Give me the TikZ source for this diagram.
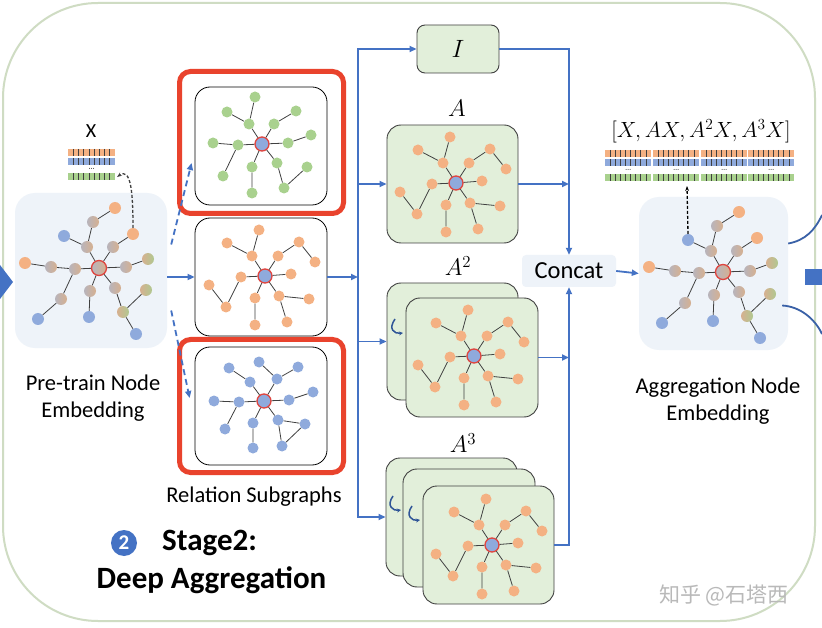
\RequirePackage{fix-cm}
\documentclass[tikz,border=0pt]{standalone}
\usepackage{fontspec}
\setmainfont{Carlito}
\newfontfamily\cjkfont{Noto Sans CJK SC}
\usetikzlibrary{arrows.meta,positioning,calc}
\definecolor{nodeorange}{HTML}{F4B183}
\definecolor{nodegreen}{HTML}{A9D18E}
\definecolor{nodeblue}{HTML}{8FAADC}
\definecolor{mixleft}{HTML}{B8B4BC}
\definecolor{mixright}{HTML}{D6B090}
\definecolor{mixgreen}{HTML}{B0C890}
\definecolor{ringred}{HTML}{E0453F}
\definecolor{panelgreen}{HTML}{E2EFDA}
\definecolor{panelblue}{HTML}{EEF3F9}
\definecolor{flowblue}{HTML}{4472C4}
\definecolor{framegreen}{HTML}{CFDCC3}
\definecolor{boxred}{HTML}{E9432D}
\definecolor{edgegray}{HTML}{404040}
\definecolor{hookblue}{HTML}{2F5597}

\tikzset{
  gnode/.style={circle, inner sep=0pt, minimum size=11pt},
  onode/.style={gnode, fill=nodeorange},
  bnode/.style={gnode, fill=nodeblue},
  grnode/.style={gnode, fill=nodegreen},
  cnode/.style={gnode, minimum size=14pt, fill=nodeblue, draw=ringred, line width=1.3pt},
  mnode/.style={gnode, minimum size=12pt, left color=mixleft, right color=mixright},
  mgnode/.style={gnode, minimum size=12pt, left color=mixright, right color=mixgreen},
  mcnode/.style={mnode, minimum size=15pt, draw=ringred, line width=1.3pt},
  gedge/.style={edgegray, line width=0.8pt},
  softpanel/.style={fill=panelblue, rounded corners=20pt, inner sep=0pt},
  subbox/.style={draw=black, fill=white, line width=0.8pt, rounded corners=15pt, minimum width=132pt, minimum height=118pt, inner sep=0pt},
  redframe/.style={draw=boxred, line width=5pt, rounded corners=11pt, minimum width=164pt, inner sep=0pt},
  gbox/.style={fill=panelgreen, draw=edgegray, line width=0.9pt, rounded corners=14pt, minimum width=131pt, minimum height=118pt, inner sep=0pt},
  flow/.style={flowblue, line width=1.8pt, -{Triangle[length=7pt, width=6pt]}},
  flowdash/.style={flow, dash pattern=on 6pt off 4pt},
  hook/.style={hookblue, line width=1.5pt, -{Stealth[length=4pt, width=4pt]}},
  tick/.style={edgegray, line width=0.6pt},
  lbl/.style={font=\fontsize{22.5}{27}\selectfont, align=center},
  mathlbl/.style={font=\fontsize{24}{28}\selectfont},
}

% orange star graph (relation subgraph and its powers)
\newcommand{\orangegraph}[3]{%
  \begin{scope}[shift={(#2,#3)}]
    \node[cnode] (#1-c) at (0,0) {};
    \node[onode] (#1-top) at (-6,-46) {};
    \node[onode] (#1-tl) at (-38,-33) {};
    \node[onode] (#1-i1) at (-13,-20) {};
    \node[onode] (#1-i2) at (13,-20) {};
    \node[onode] (#1-tr) at (34,-34) {};
    \node[onode] (#1-r2) at (50,-14) {};
    \node[onode] (#1-r) at (26,-2) {};
    \node[onode] (#1-i4) at (-24,1) {};
    \node[onode] (#1-l) at (-56,9) {};
    \node[onode] (#1-bl) at (-39,31) {};
    \node[onode] (#1-i5) at (-10,22) {};
    \node[onode] (#1-i6) at (14,20) {};
    \node[onode] (#1-br) at (44,23) {};
    \node[onode] (#1-b) at (-10,49) {};
    \node[onode] (#1-b2) at (22,46) {};
    \draw[gedge] (#1-c) -- (#1-i1) (#1-c) -- (#1-i2) (#1-c) -- (#1-r)
      (#1-c) -- (#1-i4) (#1-c) -- (#1-i5) (#1-c) -- (#1-i6)
      (#1-i1) -- (#1-top) (#1-i1) -- (#1-tl) (#1-i2) -- (#1-tr)
      (#1-tr) -- (#1-r2) (#1-i4) -- (#1-bl) (#1-bl) -- (#1-l)
      (#1-i5) -- (#1-b) (#1-i6) -- (#1-br) (#1-i6) -- (#1-b2);
  \end{scope}}

% mixed embedding graph (pre-train / aggregation)
\newcommand{\mixgraph}[3]{%
  \begin{scope}[shift={(#2,#3)}]
    \node[mcnode] (#1-c) at (0,0) {};
    \node[onode, minimum size=12pt] (#1-top2) at (16,-60) {};
    \node[mnode] (#1-top) at (-6,-46) {};
    \node[bnode, minimum size=12pt] (#1-tl) at (-35,-32) {};
    \node[mnode] (#1-i1) at (-12,-21) {};
    \node[mnode] (#1-i2) at (14,-21) {};
    \node[onode, minimum size=12pt] (#1-tr) at (34,-34) {};
    \node[mgnode] (#1-r2) at (49,-9) {};
    \node[mnode] (#1-r) at (27,-1) {};
    \node[onode, minimum size=12pt] (#1-l2) at (-74,-5) {};
    \node[mnode] (#1-l) at (-48,-1) {};
    \node[mnode] (#1-i4) at (-24,1) {};
    \node[mnode] (#1-i5) at (-9,23) {};
    \node[mnode] (#1-i6) at (16,20) {};
    \node[mgnode] (#1-br) at (47,22) {};
    \node[mnode] (#1-bl) at (-38,31) {};
    \node[bnode, minimum size=12pt] (#1-bl2) at (-61,51) {};
    \node[bnode, minimum size=12pt] (#1-b) at (-10,49) {};
    \node[mgnode] (#1-b2) at (24,44) {};
    \node[bnode, minimum size=12pt] (#1-b3) at (37,66) {};
    \draw[gedge] (#1-c) -- (#1-i1) (#1-c) -- (#1-i2) (#1-c) -- (#1-r)
      (#1-c) -- (#1-i4) (#1-c) -- (#1-i5) (#1-c) -- (#1-i6)
      (#1-i1) -- (#1-top) (#1-top) -- (#1-top2) (#1-i1) -- (#1-tl)
      (#1-i2) -- (#1-tr) (#1-r) -- (#1-r2) (#1-i4) -- (#1-l) (#1-l) -- (#1-l2)
      (#1-i4) -- (#1-bl) (#1-bl) -- (#1-bl2) (#1-i5) -- (#1-b)
      (#1-i6) -- (#1-b2) (#1-b2) -- (#1-b3) (#1-b2) -- (#1-br);
  \end{scope}}

% one block of feature rows
\newcommand{\featbar}[3]{%
  \fill[nodeorange] (#1,#2) rectangle ++(#3,7);
  \fill[nodeblue] (#1,#2+9) rectangle ++(#3,7);
  \fill[nodegreen] (#1,#2+24) rectangle ++(#3,7);
  \foreach \k in {1,...,8}{
    \draw[tick] (#1+\k*#3/9,#2) -- ++(0,7);
    \draw[tick] (#1+\k*#3/9,#2+9) -- ++(0,7);
    \draw[tick] (#1+\k*#3/9,#2+24) -- ++(0,7);
  }
  \foreach \k in {-2,0,2}{
    \fill[edgegray] (#1+#3/2+\k,#2+19.5) circle (0.5);
  }}

\begin{document}
\begin{tikzpicture}[x=1pt, y=-1pt]
\useasboundingbox (0,0) rectangle (822,628);
\fill[white] (0,0) rectangle (822,628);
\draw[framegreen, line width=2pt, rounded corners=95pt] (3,3) rectangle (815,621);

% left: pre-train embedding
\node[softpanel, minimum width=152pt, minimum height=155pt] (pre) at (91,270.5) {};
\mixgraph{pg}{99}{268}
\featbar{68}{149}{47}
\coordinate (xbar) at (117,177);
\node[font=\fontsize{20}{22}\selectfont] (xlab) at (91,131) {X};
\draw[edgegray, line width=1.3pt, dash pattern=on 3pt off 2pt, -{Stealth[length=5pt]}] (pg-tr.north) .. controls +(0,-35) and +(14,-10) .. (xbar);
\node[lbl] (prelab) at (93,398) {Pre-train Node\\Embedding};

% relation subgraphs
\node[redframe, minimum height=142pt] (red1) at (261.5,142.5) {};
\node[redframe, minimum height=133pt] (red3) at (261.5,406) {};
\node[subbox] (sub1) at (261,146) {};
\node[subbox] (sub2) at (261,277) {};
\node[subbox] (sub3) at (261,406) {};
\node[lbl] (sublab) at (254,497) {Relation Subgraphs};

% green subgraph
\begin{scope}[shift={(262,144)}]
  \node[cnode] (g1-c) at (0,0) {};
  \node[grnode] (g1-top) at (-7,-47) {};
  \node[grnode] (g1-tl) at (-35,-32) {};
  \node[grnode] (g1-i1) at (-13,-20) {};
  \node[grnode] (g1-i2) at (12,-20) {};
  \node[grnode] (g1-tr) at (34,-33) {};
  \node[grnode] (g1-r2) at (49,-9) {};
  \node[grnode] (g1-r) at (26,-1) {};
  \node[grnode] (g1-l) at (-49,-1) {};
  \node[grnode] (g1-i4) at (-24,1) {};
  \node[grnode] (g1-bl) at (-39,32) {};
  \node[grnode] (g1-i5) at (-10,23) {};
  \node[grnode] (g1-i6) at (15,19) {};
  \node[grnode] (g1-br) at (45,23) {};
  \node[grnode] (g1-b) at (-10,49) {};
  \node[grnode] (g1-b2) at (22,44) {};
  \draw[gedge] (g1-c) -- (g1-i1) (g1-c) -- (g1-i2) (g1-c) -- (g1-r)
    (g1-c) -- (g1-i4) (g1-c) -- (g1-i5) (g1-c) -- (g1-i6)
    (g1-i1) -- (g1-top) (g1-i1) -- (g1-tl) (g1-i2) -- (g1-tr)
    (g1-r) -- (g1-r2) (g1-i4) -- (g1-l) (g1-i4) -- (g1-bl)
    (g1-i5) -- (g1-b) (g1-i6) -- (g1-b2) (g1-b2) -- (g1-br);
\end{scope}

% orange subgraph
\orangegraph{g2}{265}{276}

% blue subgraph
\begin{scope}[shift={(264,401)}]
  \node[cnode] (g3-c) at (0,0) {};
  \node[bnode] (g3-top) at (-5,-39) {};
  \node[bnode] (g3-tl) at (-35,-33) {};
  \node[bnode] (g3-i1) at (-14,-19) {};
  \node[bnode] (g3-i2) at (13,-22) {};
  \node[bnode] (g3-tr) at (34,-34) {};
  \node[bnode] (g3-r2) at (49,-9) {};
  \node[bnode] (g3-r) at (25,-1) {};
  \node[bnode] (g3-l) at (-50,0) {};
  \node[bnode] (g3-i4) at (-25,1) {};
  \node[bnode] (g3-bl) at (-39,28) {};
  \node[bnode] (g3-i5) at (-11,22) {};
  \node[bnode] (g3-i6) at (14,19) {};
  \node[bnode] (g3-br) at (41,23) {};
  \node[bnode] (g3-b) at (-11,47) {};
  \node[bnode] (g3-b2) at (18,45) {};
  \draw[gedge] (g3-c) -- (g3-i1) (g3-c) -- (g3-i2) (g3-c) -- (g3-r)
    (g3-c) -- (g3-i4) (g3-c) -- (g3-i5) (g3-c) -- (g3-i6)
    (g3-i1) -- (g3-tl) (g3-top) -- (g3-i2) (g3-i2) -- (g3-tr)
    (g3-r) -- (g3-r2) (g3-i4) -- (g3-l) (g3-i4) -- (g3-bl)
    (g3-i5) -- (g3-b) (g3-i6) -- (g3-br) (g3-i6) -- (g3-b2) (g3-b2) -- (g3-br);
\end{scope}

% powers of A
\node[gbox, minimum width=82pt, minimum height=48pt, rounded corners=8pt] (ibox) at (458,49) {\fontsize{25}{28}\selectfont$I$};
\node[gbox] (abox) at (452.5,184) {};
\node[mathlbl] (alab) at (457,108) {$A$};
\orangegraph{ga1}{456}{183}

\node[gbox, minimum height=117pt] (a2back) at (452.5,341.5) {};
\node[gbox, minimum width=132pt, minimum height=119pt] (a2front) at (472,357.5) {};
\node[mathlbl] (a2lab) at (458,266) {$A^2$};
\orangegraph{ga2}{474}{356}
\draw[hook] (395,319) .. controls (388,329) and (394,334) .. (403,333);

\node[gbox] (a3back1) at (451.5,517) {};
\node[gbox, minimum width=132pt] (a3back2) at (469,528) {};
\node[gbox] (a3front) at (488.5,545) {};
\node[mathlbl] (a3lab) at (463,443) {$A^3$};
\orangegraph{ga3}{492}{545}
\draw[hook] (393,496) .. controls (386,506) and (393,511) .. (401,510);
\draw[hook] (412,506) .. controls (405,516) and (412,521) .. (420,520);

% concat and aggregation
\node[fill=panelblue, rounded corners=4pt, minimum width=94pt, minimum height=32pt, inner sep=0pt, font=\fontsize{24.5}{28}\selectfont] (concat) at (569,271) {Concat};
\node[softpanel, minimum width=149pt, minimum height=153pt] (agg) at (713.5,273.5) {};
\mixgraph{ag}{723}{272}
\node[font=\fontsize{22}{26}\selectfont] (catlab) at (701,131) {$[X, AX, A^2X, A^3X]$};
\featbar{605}{150}{46}
\featbar{653}{150}{46}
\featbar{701}{150}{46}
\featbar{748}{150}{46}
\coordinate (aggbar) at (687,186);
\draw[black, line width=1.3pt, dash pattern=on 3pt off 2pt, -{Stealth[length=5pt]}] (ag-tl.north) -- (aggbar);
\node[lbl] (agglab) at (718,401) {Aggregation Node\\Embedding};

% arrows
\coordinate (split) at (358,277);
\draw[flow] (pre.east |- sub2) -- (sub2.west);
\draw[flowdash] ($(pre.east)+(4,-26)$) -- ($(sub1.west)+(-3,17)$);
\draw[flowdash] ($(pre.east)+(4,40)$) -- ($(sub3.west)+(-5,-8)$);
\draw[flow] (sub2.east) -- (split);
\draw[flow] (split) |- (ibox.west);
\draw[flow] (split) |- (abox.west);
\draw[flow] (split) |- (a2back.west);
\draw[flow] (split) |- (a3back1.west);
\draw[flow] (ibox.east) -| (concat.north);
\draw[flow] (abox.east) -- (abox.east -| concat.north);
\draw[flow] (a2front.east) -- (a2front.east -| concat.south);
\draw[flow] (a3front.east) -| (concat.south);
\draw[flow] (concat.east) -- (agg.west);

% edges of neighbouring stages
\fill[flowblue] (0,265) -- (13,282) -- (0,299) -- cycle;
\fill[flowblue] (805,269) rectangle (822,285);
\coordinate (outa) at (822,215);
\coordinate (outb) at (822,334);
\draw[flowblue!85!black, line width=1.8pt] ($(agg.east)+(0,-30)$) .. controls +(17,-3) and +(-7,15) .. (outa);
\draw[flowblue!85!black, line width=1.8pt] ($(agg.east)+(-6,32)$) .. controls +(18,1) and +(-7,-15) .. (outb);

% stage title
\node[circle, fill=flowblue, minimum size=26pt, inner sep=0pt, text=white, font=\bfseries\fontsize{21}{22}\selectfont] (badge) at (124,543) {2};
\node[anchor=west, inner sep=0pt, font=\bfseries\fontsize{31}{36}\selectfont] (stage) at (162,543) {Stage2:};
\node[font=\bfseries\fontsize{31}{36}\selectfont] (deep) at (211.5,580) {Deep Aggregation};

\node[font=\cjkfont\fontsize{21}{24}\selectfont, text=gray!55] (mark) at (724,595) {知乎 @石塔西};
\end{tikzpicture}
\end{document}
